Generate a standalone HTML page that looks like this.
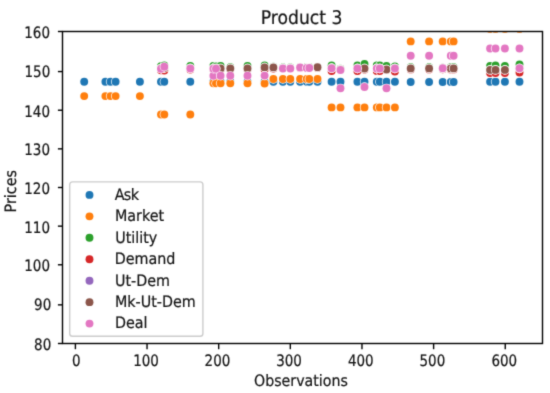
<!DOCTYPE html>
<html><head><meta charset="utf-8"><title>Product 3</title>
<style>html,body{margin:0;padding:0;background:#fff}svg{display:block;text-rendering:geometricPrecision}text{stroke:#151515;stroke-width:.2px}</style></head>
<body>
<svg width="550" height="393" viewBox="0 0 550 393" font-family="'DejaVu Sans', 'Liberation Sans', sans-serif" font-size="14.33" fill="#151515">
<rect width="550" height="393" fill="#fff"/>
<filter id="bl" x="0" y="0" width="550" height="393" filterUnits="userSpaceOnUse" color-interpolation-filters="sRGB"><feConvolveMatrix order="3" kernelMatrix="0.01917 0.10012 0.01917 0.10012 0.52283 0.10012 0.01917 0.10012 0.01917" edgeMode="duplicate" preserveAlpha="true"/></filter>
<g filter="url(#bl)">
<rect width="550" height="393" fill="#fff"/>
<defs><clipPath id="ax"><rect x="62.5" y="31.5" width="480.0" height="312.0"/></clipPath></defs>
<g clip-path="url(#ax)">
<circle cx="84.2" cy="81.7" r="4.65" fill="#fff"/><circle cx="84.2" cy="81.7" r="3.95" fill="#1f77b4"/>
<circle cx="105.4" cy="81.7" r="4.65" fill="#fff"/><circle cx="105.4" cy="81.7" r="3.95" fill="#1f77b4"/>
<circle cx="110.5" cy="81.7" r="4.65" fill="#fff"/><circle cx="110.5" cy="81.7" r="3.95" fill="#1f77b4"/>
<circle cx="115.6" cy="81.7" r="4.65" fill="#fff"/><circle cx="115.6" cy="81.7" r="3.95" fill="#1f77b4"/>
<circle cx="139.9" cy="81.7" r="4.65" fill="#fff"/><circle cx="139.9" cy="81.7" r="3.95" fill="#1f77b4"/>
<circle cx="161.0" cy="81.7" r="4.65" fill="#fff"/><circle cx="161.0" cy="81.7" r="3.95" fill="#1f77b4"/>
<circle cx="164.3" cy="81.7" r="4.65" fill="#fff"/><circle cx="164.3" cy="81.7" r="3.95" fill="#1f77b4"/>
<circle cx="190.3" cy="81.7" r="4.65" fill="#fff"/><circle cx="190.3" cy="81.7" r="3.95" fill="#1f77b4"/>
<circle cx="213.4" cy="81.7" r="4.65" fill="#fff"/><circle cx="213.4" cy="81.7" r="3.95" fill="#1f77b4"/>
<circle cx="216.0" cy="81.7" r="4.65" fill="#fff"/><circle cx="216.0" cy="81.7" r="3.95" fill="#1f77b4"/>
<circle cx="220.6" cy="81.7" r="4.65" fill="#fff"/><circle cx="220.6" cy="81.7" r="3.95" fill="#1f77b4"/>
<circle cx="230.3" cy="81.7" r="4.65" fill="#fff"/><circle cx="230.3" cy="81.7" r="3.95" fill="#1f77b4"/>
<circle cx="247.5" cy="81.7" r="4.65" fill="#fff"/><circle cx="247.5" cy="81.7" r="3.95" fill="#1f77b4"/>
<circle cx="264.6" cy="81.7" r="4.65" fill="#fff"/><circle cx="264.6" cy="81.7" r="3.95" fill="#1f77b4"/>
<circle cx="273.4" cy="81.7" r="4.65" fill="#fff"/><circle cx="273.4" cy="81.7" r="3.95" fill="#1f77b4"/>
<circle cx="282.9" cy="81.7" r="4.65" fill="#fff"/><circle cx="282.9" cy="81.7" r="3.95" fill="#1f77b4"/>
<circle cx="290.3" cy="81.7" r="4.65" fill="#fff"/><circle cx="290.3" cy="81.7" r="3.95" fill="#1f77b4"/>
<circle cx="300.1" cy="81.7" r="4.65" fill="#fff"/><circle cx="300.1" cy="81.7" r="3.95" fill="#1f77b4"/>
<circle cx="306.8" cy="81.7" r="4.65" fill="#fff"/><circle cx="306.8" cy="81.7" r="3.95" fill="#1f77b4"/>
<circle cx="309.3" cy="81.7" r="4.65" fill="#fff"/><circle cx="309.3" cy="81.7" r="3.95" fill="#1f77b4"/>
<circle cx="317.5" cy="81.7" r="4.65" fill="#fff"/><circle cx="317.5" cy="81.7" r="3.95" fill="#1f77b4"/>
<circle cx="331.6" cy="81.7" r="4.65" fill="#fff"/><circle cx="331.6" cy="81.7" r="3.95" fill="#1f77b4"/>
<circle cx="340.5" cy="81.7" r="4.65" fill="#fff"/><circle cx="340.5" cy="81.7" r="3.95" fill="#1f77b4"/>
<circle cx="357.4" cy="81.7" r="4.65" fill="#fff"/><circle cx="357.4" cy="81.7" r="3.95" fill="#1f77b4"/>
<circle cx="364.5" cy="81.7" r="4.65" fill="#fff"/><circle cx="364.5" cy="81.7" r="3.95" fill="#1f77b4"/>
<circle cx="376.8" cy="81.7" r="4.65" fill="#fff"/><circle cx="376.8" cy="81.7" r="3.95" fill="#1f77b4"/>
<circle cx="379.8" cy="81.7" r="4.65" fill="#fff"/><circle cx="379.8" cy="81.7" r="3.95" fill="#1f77b4"/>
<circle cx="386.5" cy="81.7" r="4.65" fill="#fff"/><circle cx="386.5" cy="81.7" r="3.95" fill="#1f77b4"/>
<circle cx="394.9" cy="81.7" r="4.65" fill="#fff"/><circle cx="394.9" cy="81.7" r="3.95" fill="#1f77b4"/>
<circle cx="410.7" cy="82.0" r="4.65" fill="#fff"/><circle cx="410.7" cy="82.0" r="3.95" fill="#1f77b4"/>
<circle cx="429.1" cy="82.0" r="4.65" fill="#fff"/><circle cx="429.1" cy="82.0" r="3.95" fill="#1f77b4"/>
<circle cx="442.7" cy="82.0" r="4.65" fill="#fff"/><circle cx="442.7" cy="82.0" r="3.95" fill="#1f77b4"/>
<circle cx="450.8" cy="82.0" r="4.65" fill="#fff"/><circle cx="450.8" cy="82.0" r="3.95" fill="#1f77b4"/>
<circle cx="453.6" cy="82.0" r="4.65" fill="#fff"/><circle cx="453.6" cy="82.0" r="3.95" fill="#1f77b4"/>
<circle cx="490.1" cy="81.7" r="4.65" fill="#fff"/><circle cx="490.1" cy="81.7" r="3.95" fill="#1f77b4"/>
<circle cx="495.5" cy="81.7" r="4.65" fill="#fff"/><circle cx="495.5" cy="81.7" r="3.95" fill="#1f77b4"/>
<circle cx="504.9" cy="81.7" r="4.65" fill="#fff"/><circle cx="504.9" cy="81.7" r="3.95" fill="#1f77b4"/>
<circle cx="519.5" cy="81.7" r="4.65" fill="#fff"/><circle cx="519.5" cy="81.7" r="3.95" fill="#1f77b4"/>
<circle cx="84.2" cy="96.1" r="4.65" fill="#fff"/><circle cx="84.2" cy="96.1" r="3.95" fill="#ff7f0e"/>
<circle cx="105.4" cy="96.1" r="4.65" fill="#fff"/><circle cx="105.4" cy="96.1" r="3.95" fill="#ff7f0e"/>
<circle cx="110.5" cy="96.1" r="4.65" fill="#fff"/><circle cx="110.5" cy="96.1" r="3.95" fill="#ff7f0e"/>
<circle cx="115.6" cy="96.1" r="4.65" fill="#fff"/><circle cx="115.6" cy="96.1" r="3.95" fill="#ff7f0e"/>
<circle cx="139.9" cy="96.1" r="4.65" fill="#fff"/><circle cx="139.9" cy="96.1" r="3.95" fill="#ff7f0e"/>
<circle cx="161.0" cy="114.5" r="4.65" fill="#fff"/><circle cx="161.0" cy="114.5" r="3.95" fill="#ff7f0e"/>
<circle cx="164.3" cy="114.5" r="4.65" fill="#fff"/><circle cx="164.3" cy="114.5" r="3.95" fill="#ff7f0e"/>
<circle cx="190.3" cy="114.5" r="4.65" fill="#fff"/><circle cx="190.3" cy="114.5" r="3.95" fill="#ff7f0e"/>
<circle cx="213.4" cy="83.3" r="4.65" fill="#fff"/><circle cx="213.4" cy="83.3" r="3.95" fill="#ff7f0e"/>
<circle cx="216.0" cy="83.3" r="4.65" fill="#fff"/><circle cx="216.0" cy="83.3" r="3.95" fill="#ff7f0e"/>
<circle cx="220.6" cy="83.3" r="4.65" fill="#fff"/><circle cx="220.6" cy="83.3" r="3.95" fill="#ff7f0e"/>
<circle cx="230.3" cy="83.3" r="4.65" fill="#fff"/><circle cx="230.3" cy="83.3" r="3.95" fill="#ff7f0e"/>
<circle cx="247.5" cy="83.3" r="4.65" fill="#fff"/><circle cx="247.5" cy="83.3" r="3.95" fill="#ff7f0e"/>
<circle cx="264.6" cy="83.5" r="4.65" fill="#fff"/><circle cx="264.6" cy="83.5" r="3.95" fill="#ff7f0e"/>
<circle cx="273.4" cy="79.0" r="4.65" fill="#fff"/><circle cx="273.4" cy="79.0" r="3.95" fill="#ff7f0e"/>
<circle cx="282.9" cy="79.0" r="4.65" fill="#fff"/><circle cx="282.9" cy="79.0" r="3.95" fill="#ff7f0e"/>
<circle cx="290.3" cy="79.0" r="4.65" fill="#fff"/><circle cx="290.3" cy="79.0" r="3.95" fill="#ff7f0e"/>
<circle cx="300.1" cy="79.0" r="4.65" fill="#fff"/><circle cx="300.1" cy="79.0" r="3.95" fill="#ff7f0e"/>
<circle cx="306.8" cy="79.0" r="4.65" fill="#fff"/><circle cx="306.8" cy="79.0" r="3.95" fill="#ff7f0e"/>
<circle cx="309.3" cy="79.0" r="4.65" fill="#fff"/><circle cx="309.3" cy="79.0" r="3.95" fill="#ff7f0e"/>
<circle cx="317.5" cy="79.0" r="4.65" fill="#fff"/><circle cx="317.5" cy="79.0" r="3.95" fill="#ff7f0e"/>
<circle cx="331.6" cy="107.4" r="4.65" fill="#fff"/><circle cx="331.6" cy="107.4" r="3.95" fill="#ff7f0e"/>
<circle cx="340.5" cy="107.4" r="4.65" fill="#fff"/><circle cx="340.5" cy="107.4" r="3.95" fill="#ff7f0e"/>
<circle cx="357.4" cy="107.4" r="4.65" fill="#fff"/><circle cx="357.4" cy="107.4" r="3.95" fill="#ff7f0e"/>
<circle cx="364.5" cy="107.4" r="4.65" fill="#fff"/><circle cx="364.5" cy="107.4" r="3.95" fill="#ff7f0e"/>
<circle cx="376.8" cy="107.4" r="4.65" fill="#fff"/><circle cx="376.8" cy="107.4" r="3.95" fill="#ff7f0e"/>
<circle cx="379.8" cy="107.4" r="4.65" fill="#fff"/><circle cx="379.8" cy="107.4" r="3.95" fill="#ff7f0e"/>
<circle cx="386.5" cy="107.4" r="4.65" fill="#fff"/><circle cx="386.5" cy="107.4" r="3.95" fill="#ff7f0e"/>
<circle cx="394.9" cy="107.4" r="4.65" fill="#fff"/><circle cx="394.9" cy="107.4" r="3.95" fill="#ff7f0e"/>
<circle cx="410.7" cy="41.4" r="4.65" fill="#fff"/><circle cx="410.7" cy="41.4" r="3.95" fill="#ff7f0e"/>
<circle cx="429.1" cy="41.4" r="4.65" fill="#fff"/><circle cx="429.1" cy="41.4" r="3.95" fill="#ff7f0e"/>
<circle cx="442.7" cy="41.4" r="4.65" fill="#fff"/><circle cx="442.7" cy="41.4" r="3.95" fill="#ff7f0e"/>
<circle cx="450.8" cy="41.4" r="4.65" fill="#fff"/><circle cx="450.8" cy="41.4" r="3.95" fill="#ff7f0e"/>
<circle cx="453.6" cy="41.4" r="4.65" fill="#fff"/><circle cx="453.6" cy="41.4" r="3.95" fill="#ff7f0e"/>
<circle cx="490.1" cy="28.9" r="4.65" fill="#fff"/><circle cx="490.1" cy="28.9" r="3.95" fill="#ff7f0e"/>
<circle cx="495.5" cy="28.9" r="4.65" fill="#fff"/><circle cx="495.5" cy="28.9" r="3.95" fill="#ff7f0e"/>
<circle cx="504.9" cy="28.9" r="4.65" fill="#fff"/><circle cx="504.9" cy="28.9" r="3.95" fill="#ff7f0e"/>
<circle cx="519.5" cy="28.9" r="4.65" fill="#fff"/><circle cx="519.5" cy="28.9" r="3.95" fill="#ff7f0e"/>
<circle cx="161.0" cy="66.2" r="4.65" fill="#fff"/><circle cx="161.0" cy="66.2" r="3.95" fill="#2ca02c"/>
<circle cx="164.3" cy="65.5" r="4.65" fill="#fff"/><circle cx="164.3" cy="65.5" r="3.95" fill="#2ca02c"/>
<circle cx="190.3" cy="66.0" r="4.65" fill="#fff"/><circle cx="190.3" cy="66.0" r="3.95" fill="#2ca02c"/>
<circle cx="213.4" cy="66.0" r="4.65" fill="#fff"/><circle cx="213.4" cy="66.0" r="3.95" fill="#2ca02c"/>
<circle cx="216.0" cy="66.5" r="4.65" fill="#fff"/><circle cx="216.0" cy="66.5" r="3.95" fill="#2ca02c"/>
<circle cx="220.6" cy="66.0" r="4.65" fill="#fff"/><circle cx="220.6" cy="66.0" r="3.95" fill="#2ca02c"/>
<circle cx="230.3" cy="67.3" r="4.65" fill="#fff"/><circle cx="230.3" cy="67.3" r="3.95" fill="#2ca02c"/>
<circle cx="247.5" cy="66.0" r="4.65" fill="#fff"/><circle cx="247.5" cy="66.0" r="3.95" fill="#2ca02c"/>
<circle cx="264.6" cy="65.5" r="4.65" fill="#fff"/><circle cx="264.6" cy="65.5" r="3.95" fill="#2ca02c"/>
<circle cx="273.4" cy="66.8" r="4.65" fill="#fff"/><circle cx="273.4" cy="66.8" r="3.95" fill="#2ca02c"/>
<circle cx="282.9" cy="67.5" r="4.65" fill="#fff"/><circle cx="282.9" cy="67.5" r="3.95" fill="#2ca02c"/>
<circle cx="290.3" cy="67.5" r="4.65" fill="#fff"/><circle cx="290.3" cy="67.5" r="3.95" fill="#2ca02c"/>
<circle cx="300.1" cy="67.0" r="4.65" fill="#fff"/><circle cx="300.1" cy="67.0" r="3.95" fill="#2ca02c"/>
<circle cx="306.8" cy="67.0" r="4.65" fill="#fff"/><circle cx="306.8" cy="67.0" r="3.95" fill="#2ca02c"/>
<circle cx="309.3" cy="67.0" r="4.65" fill="#fff"/><circle cx="309.3" cy="67.0" r="3.95" fill="#2ca02c"/>
<circle cx="317.5" cy="67.0" r="4.65" fill="#fff"/><circle cx="317.5" cy="67.0" r="3.95" fill="#2ca02c"/>
<circle cx="331.6" cy="65.5" r="4.65" fill="#fff"/><circle cx="331.6" cy="65.5" r="3.95" fill="#2ca02c"/>
<circle cx="340.5" cy="68.6" r="4.65" fill="#fff"/><circle cx="340.5" cy="68.6" r="3.95" fill="#2ca02c"/>
<circle cx="357.4" cy="65.5" r="4.65" fill="#fff"/><circle cx="357.4" cy="65.5" r="3.95" fill="#2ca02c"/>
<circle cx="364.5" cy="64.0" r="4.65" fill="#fff"/><circle cx="364.5" cy="64.0" r="3.95" fill="#2ca02c"/>
<circle cx="376.8" cy="65.5" r="4.65" fill="#fff"/><circle cx="376.8" cy="65.5" r="3.95" fill="#2ca02c"/>
<circle cx="379.8" cy="65.5" r="4.65" fill="#fff"/><circle cx="379.8" cy="65.5" r="3.95" fill="#2ca02c"/>
<circle cx="386.5" cy="66.0" r="4.65" fill="#fff"/><circle cx="386.5" cy="66.0" r="3.95" fill="#2ca02c"/>
<circle cx="394.9" cy="66.5" r="4.65" fill="#fff"/><circle cx="394.9" cy="66.5" r="3.95" fill="#2ca02c"/>
<circle cx="410.7" cy="67.3" r="4.65" fill="#fff"/><circle cx="410.7" cy="67.3" r="3.95" fill="#2ca02c"/>
<circle cx="429.1" cy="67.3" r="4.65" fill="#fff"/><circle cx="429.1" cy="67.3" r="3.95" fill="#2ca02c"/>
<circle cx="442.7" cy="67.6" r="4.65" fill="#fff"/><circle cx="442.7" cy="67.6" r="3.95" fill="#2ca02c"/>
<circle cx="450.8" cy="67.3" r="4.65" fill="#fff"/><circle cx="450.8" cy="67.3" r="3.95" fill="#2ca02c"/>
<circle cx="453.6" cy="67.3" r="4.65" fill="#fff"/><circle cx="453.6" cy="67.3" r="3.95" fill="#2ca02c"/>
<circle cx="490.1" cy="66.0" r="4.65" fill="#fff"/><circle cx="490.1" cy="66.0" r="3.95" fill="#2ca02c"/>
<circle cx="495.5" cy="65.5" r="4.65" fill="#fff"/><circle cx="495.5" cy="65.5" r="3.95" fill="#2ca02c"/>
<circle cx="504.9" cy="66.0" r="4.65" fill="#fff"/><circle cx="504.9" cy="66.0" r="3.95" fill="#2ca02c"/>
<circle cx="519.5" cy="64.5" r="4.65" fill="#fff"/><circle cx="519.5" cy="64.5" r="3.95" fill="#2ca02c"/>
<circle cx="161.0" cy="70.3" r="4.65" fill="#fff"/><circle cx="161.0" cy="70.3" r="3.95" fill="#d62728"/>
<circle cx="164.3" cy="70.5" r="4.65" fill="#fff"/><circle cx="164.3" cy="70.5" r="3.95" fill="#d62728"/>
<circle cx="190.3" cy="69.5" r="4.65" fill="#fff"/><circle cx="190.3" cy="69.5" r="3.95" fill="#d62728"/>
<circle cx="213.4" cy="69.5" r="4.65" fill="#fff"/><circle cx="213.4" cy="69.5" r="3.95" fill="#d62728"/>
<circle cx="216.0" cy="69.5" r="4.65" fill="#fff"/><circle cx="216.0" cy="69.5" r="3.95" fill="#d62728"/>
<circle cx="220.6" cy="69.5" r="4.65" fill="#fff"/><circle cx="220.6" cy="69.5" r="3.95" fill="#d62728"/>
<circle cx="230.3" cy="69.5" r="4.65" fill="#fff"/><circle cx="230.3" cy="69.5" r="3.95" fill="#d62728"/>
<circle cx="247.5" cy="69.5" r="4.65" fill="#fff"/><circle cx="247.5" cy="69.5" r="3.95" fill="#d62728"/>
<circle cx="264.6" cy="69.5" r="4.65" fill="#fff"/><circle cx="264.6" cy="69.5" r="3.95" fill="#d62728"/>
<circle cx="273.4" cy="68.5" r="4.65" fill="#fff"/><circle cx="273.4" cy="68.5" r="3.95" fill="#d62728"/>
<circle cx="282.9" cy="68.5" r="4.65" fill="#fff"/><circle cx="282.9" cy="68.5" r="3.95" fill="#d62728"/>
<circle cx="290.3" cy="68.5" r="4.65" fill="#fff"/><circle cx="290.3" cy="68.5" r="3.95" fill="#d62728"/>
<circle cx="300.1" cy="68.0" r="4.65" fill="#fff"/><circle cx="300.1" cy="68.0" r="3.95" fill="#d62728"/>
<circle cx="306.8" cy="68.0" r="4.65" fill="#fff"/><circle cx="306.8" cy="68.0" r="3.95" fill="#d62728"/>
<circle cx="309.3" cy="68.0" r="4.65" fill="#fff"/><circle cx="309.3" cy="68.0" r="3.95" fill="#d62728"/>
<circle cx="317.5" cy="68.0" r="4.65" fill="#fff"/><circle cx="317.5" cy="68.0" r="3.95" fill="#d62728"/>
<circle cx="331.6" cy="71.0" r="4.65" fill="#fff"/><circle cx="331.6" cy="71.0" r="3.95" fill="#d62728"/>
<circle cx="340.5" cy="70.0" r="4.65" fill="#fff"/><circle cx="340.5" cy="70.0" r="3.95" fill="#d62728"/>
<circle cx="357.4" cy="71.0" r="4.65" fill="#fff"/><circle cx="357.4" cy="71.0" r="3.95" fill="#d62728"/>
<circle cx="364.5" cy="69.5" r="4.65" fill="#fff"/><circle cx="364.5" cy="69.5" r="3.95" fill="#d62728"/>
<circle cx="376.8" cy="71.0" r="4.65" fill="#fff"/><circle cx="376.8" cy="71.0" r="3.95" fill="#d62728"/>
<circle cx="379.8" cy="71.0" r="4.65" fill="#fff"/><circle cx="379.8" cy="71.0" r="3.95" fill="#d62728"/>
<circle cx="386.5" cy="70.0" r="4.65" fill="#fff"/><circle cx="386.5" cy="70.0" r="3.95" fill="#d62728"/>
<circle cx="394.9" cy="71.5" r="4.65" fill="#fff"/><circle cx="394.9" cy="71.5" r="3.95" fill="#d62728"/>
<circle cx="410.7" cy="69.4" r="4.65" fill="#fff"/><circle cx="410.7" cy="69.4" r="3.95" fill="#d62728"/>
<circle cx="429.1" cy="69.4" r="4.65" fill="#fff"/><circle cx="429.1" cy="69.4" r="3.95" fill="#d62728"/>
<circle cx="442.7" cy="69.2" r="4.65" fill="#fff"/><circle cx="442.7" cy="69.2" r="3.95" fill="#d62728"/>
<circle cx="450.8" cy="69.4" r="4.65" fill="#fff"/><circle cx="450.8" cy="69.4" r="3.95" fill="#d62728"/>
<circle cx="453.6" cy="69.4" r="4.65" fill="#fff"/><circle cx="453.6" cy="69.4" r="3.95" fill="#d62728"/>
<circle cx="490.1" cy="73.0" r="4.65" fill="#fff"/><circle cx="490.1" cy="73.0" r="3.95" fill="#d62728"/>
<circle cx="495.5" cy="73.0" r="4.65" fill="#fff"/><circle cx="495.5" cy="73.0" r="3.95" fill="#d62728"/>
<circle cx="504.9" cy="73.0" r="4.65" fill="#fff"/><circle cx="504.9" cy="73.0" r="3.95" fill="#d62728"/>
<circle cx="519.5" cy="72.5" r="4.65" fill="#fff"/><circle cx="519.5" cy="72.5" r="3.95" fill="#d62728"/>
<circle cx="161.0" cy="68.5" r="4.65" fill="#fff"/><circle cx="161.0" cy="68.5" r="3.95" fill="#9467bd"/>
<circle cx="164.3" cy="68.0" r="4.65" fill="#fff"/><circle cx="164.3" cy="68.0" r="3.95" fill="#9467bd"/>
<circle cx="190.3" cy="68.3" r="4.65" fill="#fff"/><circle cx="190.3" cy="68.3" r="3.95" fill="#9467bd"/>
<circle cx="213.4" cy="68.5" r="4.65" fill="#fff"/><circle cx="213.4" cy="68.5" r="3.95" fill="#9467bd"/>
<circle cx="216.0" cy="68.5" r="4.65" fill="#fff"/><circle cx="216.0" cy="68.5" r="3.95" fill="#9467bd"/>
<circle cx="220.6" cy="68.5" r="4.65" fill="#fff"/><circle cx="220.6" cy="68.5" r="3.95" fill="#9467bd"/>
<circle cx="230.3" cy="68.5" r="4.65" fill="#fff"/><circle cx="230.3" cy="68.5" r="3.95" fill="#9467bd"/>
<circle cx="247.5" cy="68.5" r="4.65" fill="#fff"/><circle cx="247.5" cy="68.5" r="3.95" fill="#9467bd"/>
<circle cx="264.6" cy="67.5" r="4.65" fill="#fff"/><circle cx="264.6" cy="67.5" r="3.95" fill="#9467bd"/>
<circle cx="273.4" cy="67.4" r="4.65" fill="#fff"/><circle cx="273.4" cy="67.4" r="3.95" fill="#9467bd"/>
<circle cx="282.9" cy="68.3" r="4.65" fill="#fff"/><circle cx="282.9" cy="68.3" r="3.95" fill="#9467bd"/>
<circle cx="290.3" cy="68.3" r="4.65" fill="#fff"/><circle cx="290.3" cy="68.3" r="3.95" fill="#9467bd"/>
<circle cx="300.1" cy="67.5" r="4.65" fill="#fff"/><circle cx="300.1" cy="67.5" r="3.95" fill="#9467bd"/>
<circle cx="306.8" cy="67.8" r="4.65" fill="#fff"/><circle cx="306.8" cy="67.8" r="3.95" fill="#9467bd"/>
<circle cx="309.3" cy="67.8" r="4.65" fill="#fff"/><circle cx="309.3" cy="67.8" r="3.95" fill="#9467bd"/>
<circle cx="317.5" cy="67.3" r="4.65" fill="#fff"/><circle cx="317.5" cy="67.3" r="3.95" fill="#9467bd"/>
<circle cx="331.6" cy="68.2" r="4.65" fill="#fff"/><circle cx="331.6" cy="68.2" r="3.95" fill="#9467bd"/>
<circle cx="340.5" cy="69.5" r="4.65" fill="#fff"/><circle cx="340.5" cy="69.5" r="3.95" fill="#9467bd"/>
<circle cx="357.4" cy="68.5" r="4.65" fill="#fff"/><circle cx="357.4" cy="68.5" r="3.95" fill="#9467bd"/>
<circle cx="364.5" cy="68.5" r="4.65" fill="#fff"/><circle cx="364.5" cy="68.5" r="3.95" fill="#9467bd"/>
<circle cx="376.8" cy="68.5" r="4.65" fill="#fff"/><circle cx="376.8" cy="68.5" r="3.95" fill="#9467bd"/>
<circle cx="379.8" cy="68.5" r="4.65" fill="#fff"/><circle cx="379.8" cy="68.5" r="3.95" fill="#9467bd"/>
<circle cx="386.5" cy="69.5" r="4.65" fill="#fff"/><circle cx="386.5" cy="69.5" r="3.95" fill="#9467bd"/>
<circle cx="394.9" cy="68.5" r="4.65" fill="#fff"/><circle cx="394.9" cy="68.5" r="3.95" fill="#9467bd"/>
<circle cx="410.7" cy="68.4" r="4.65" fill="#fff"/><circle cx="410.7" cy="68.4" r="3.95" fill="#9467bd"/>
<circle cx="429.1" cy="68.4" r="4.65" fill="#fff"/><circle cx="429.1" cy="68.4" r="3.95" fill="#9467bd"/>
<circle cx="442.7" cy="68.4" r="4.65" fill="#fff"/><circle cx="442.7" cy="68.4" r="3.95" fill="#9467bd"/>
<circle cx="450.8" cy="68.4" r="4.65" fill="#fff"/><circle cx="450.8" cy="68.4" r="3.95" fill="#9467bd"/>
<circle cx="453.6" cy="68.4" r="4.65" fill="#fff"/><circle cx="453.6" cy="68.4" r="3.95" fill="#9467bd"/>
<circle cx="490.1" cy="69.9" r="4.65" fill="#fff"/><circle cx="490.1" cy="69.9" r="3.95" fill="#9467bd"/>
<circle cx="495.5" cy="69.9" r="4.65" fill="#fff"/><circle cx="495.5" cy="69.9" r="3.95" fill="#9467bd"/>
<circle cx="504.9" cy="69.9" r="4.65" fill="#fff"/><circle cx="504.9" cy="69.9" r="3.95" fill="#9467bd"/>
<circle cx="519.5" cy="68.5" r="4.65" fill="#fff"/><circle cx="519.5" cy="68.5" r="3.95" fill="#9467bd"/>
<circle cx="161.0" cy="68.5" r="4.65" fill="#fff"/><circle cx="161.0" cy="68.5" r="3.95" fill="#8c564b"/>
<circle cx="164.3" cy="68.0" r="4.65" fill="#fff"/><circle cx="164.3" cy="68.0" r="3.95" fill="#8c564b"/>
<circle cx="190.3" cy="68.3" r="4.65" fill="#fff"/><circle cx="190.3" cy="68.3" r="3.95" fill="#8c564b"/>
<circle cx="213.4" cy="68.5" r="4.65" fill="#fff"/><circle cx="213.4" cy="68.5" r="3.95" fill="#8c564b"/>
<circle cx="216.0" cy="68.5" r="4.65" fill="#fff"/><circle cx="216.0" cy="68.5" r="3.95" fill="#8c564b"/>
<circle cx="220.6" cy="68.5" r="4.65" fill="#fff"/><circle cx="220.6" cy="68.5" r="3.95" fill="#8c564b"/>
<circle cx="230.3" cy="68.5" r="4.65" fill="#fff"/><circle cx="230.3" cy="68.5" r="3.95" fill="#8c564b"/>
<circle cx="247.5" cy="68.5" r="4.65" fill="#fff"/><circle cx="247.5" cy="68.5" r="3.95" fill="#8c564b"/>
<circle cx="264.6" cy="67.5" r="4.65" fill="#fff"/><circle cx="264.6" cy="67.5" r="3.95" fill="#8c564b"/>
<circle cx="273.4" cy="67.4" r="4.65" fill="#fff"/><circle cx="273.4" cy="67.4" r="3.95" fill="#8c564b"/>
<circle cx="282.9" cy="68.3" r="4.65" fill="#fff"/><circle cx="282.9" cy="68.3" r="3.95" fill="#8c564b"/>
<circle cx="290.3" cy="68.3" r="4.65" fill="#fff"/><circle cx="290.3" cy="68.3" r="3.95" fill="#8c564b"/>
<circle cx="300.1" cy="67.5" r="4.65" fill="#fff"/><circle cx="300.1" cy="67.5" r="3.95" fill="#8c564b"/>
<circle cx="306.8" cy="67.8" r="4.65" fill="#fff"/><circle cx="306.8" cy="67.8" r="3.95" fill="#8c564b"/>
<circle cx="309.3" cy="67.8" r="4.65" fill="#fff"/><circle cx="309.3" cy="67.8" r="3.95" fill="#8c564b"/>
<circle cx="317.5" cy="67.3" r="4.65" fill="#fff"/><circle cx="317.5" cy="67.3" r="3.95" fill="#8c564b"/>
<circle cx="331.6" cy="68.2" r="4.65" fill="#fff"/><circle cx="331.6" cy="68.2" r="3.95" fill="#8c564b"/>
<circle cx="340.5" cy="69.5" r="4.65" fill="#fff"/><circle cx="340.5" cy="69.5" r="3.95" fill="#8c564b"/>
<circle cx="357.4" cy="68.5" r="4.65" fill="#fff"/><circle cx="357.4" cy="68.5" r="3.95" fill="#8c564b"/>
<circle cx="364.5" cy="68.5" r="4.65" fill="#fff"/><circle cx="364.5" cy="68.5" r="3.95" fill="#8c564b"/>
<circle cx="376.8" cy="68.5" r="4.65" fill="#fff"/><circle cx="376.8" cy="68.5" r="3.95" fill="#8c564b"/>
<circle cx="379.8" cy="68.5" r="4.65" fill="#fff"/><circle cx="379.8" cy="68.5" r="3.95" fill="#8c564b"/>
<circle cx="386.5" cy="69.5" r="4.65" fill="#fff"/><circle cx="386.5" cy="69.5" r="3.95" fill="#8c564b"/>
<circle cx="394.9" cy="68.5" r="4.65" fill="#fff"/><circle cx="394.9" cy="68.5" r="3.95" fill="#8c564b"/>
<circle cx="410.7" cy="68.4" r="4.65" fill="#fff"/><circle cx="410.7" cy="68.4" r="3.95" fill="#8c564b"/>
<circle cx="429.1" cy="68.4" r="4.65" fill="#fff"/><circle cx="429.1" cy="68.4" r="3.95" fill="#8c564b"/>
<circle cx="442.7" cy="68.4" r="4.65" fill="#fff"/><circle cx="442.7" cy="68.4" r="3.95" fill="#8c564b"/>
<circle cx="450.8" cy="68.4" r="4.65" fill="#fff"/><circle cx="450.8" cy="68.4" r="3.95" fill="#8c564b"/>
<circle cx="453.6" cy="68.4" r="4.65" fill="#fff"/><circle cx="453.6" cy="68.4" r="3.95" fill="#8c564b"/>
<circle cx="490.1" cy="69.9" r="4.65" fill="#fff"/><circle cx="490.1" cy="69.9" r="3.95" fill="#8c564b"/>
<circle cx="495.5" cy="69.9" r="4.65" fill="#fff"/><circle cx="495.5" cy="69.9" r="3.95" fill="#8c564b"/>
<circle cx="504.9" cy="69.9" r="4.65" fill="#fff"/><circle cx="504.9" cy="69.9" r="3.95" fill="#8c564b"/>
<circle cx="519.5" cy="68.5" r="4.65" fill="#fff"/><circle cx="519.5" cy="68.5" r="3.95" fill="#8c564b"/>
<circle cx="161.0" cy="68.8" r="4.65" fill="#fff"/><circle cx="161.0" cy="68.8" r="3.95" fill="#e377c2"/>
<circle cx="164.3" cy="66.8" r="4.65" fill="#fff"/><circle cx="164.3" cy="66.8" r="3.95" fill="#e377c2"/>
<circle cx="190.3" cy="68.5" r="4.65" fill="#fff"/><circle cx="190.3" cy="68.5" r="3.95" fill="#e377c2"/>
<circle cx="213.4" cy="75.8" r="4.65" fill="#fff"/><circle cx="213.4" cy="75.8" r="3.95" fill="#e377c2"/>
<circle cx="213.4" cy="68.8" r="4.65" fill="#fff"/><circle cx="213.4" cy="68.8" r="3.95" fill="#e377c2"/>
<circle cx="216.0" cy="68.8" r="4.65" fill="#fff"/><circle cx="216.0" cy="68.8" r="3.95" fill="#e377c2"/>
<circle cx="220.6" cy="75.8" r="4.65" fill="#fff"/><circle cx="220.6" cy="75.8" r="3.95" fill="#e377c2"/>
<circle cx="230.3" cy="75.8" r="4.65" fill="#fff"/><circle cx="230.3" cy="75.8" r="3.95" fill="#e377c2"/>
<circle cx="247.5" cy="75.8" r="4.65" fill="#fff"/><circle cx="247.5" cy="75.8" r="3.95" fill="#e377c2"/>
<circle cx="264.6" cy="75.6" r="4.65" fill="#fff"/><circle cx="264.6" cy="75.6" r="3.95" fill="#e377c2"/>
<circle cx="282.9" cy="68.5" r="4.65" fill="#fff"/><circle cx="282.9" cy="68.5" r="3.95" fill="#e377c2"/>
<circle cx="290.3" cy="68.5" r="4.65" fill="#fff"/><circle cx="290.3" cy="68.5" r="3.95" fill="#e377c2"/>
<circle cx="300.1" cy="67.5" r="4.65" fill="#fff"/><circle cx="300.1" cy="67.5" r="3.95" fill="#e377c2"/>
<circle cx="306.8" cy="68.0" r="4.65" fill="#fff"/><circle cx="306.8" cy="68.0" r="3.95" fill="#e377c2"/>
<circle cx="309.3" cy="68.0" r="4.65" fill="#fff"/><circle cx="309.3" cy="68.0" r="3.95" fill="#e377c2"/>
<circle cx="331.6" cy="68.2" r="4.65" fill="#fff"/><circle cx="331.6" cy="68.2" r="3.95" fill="#e377c2"/>
<circle cx="340.5" cy="70.0" r="4.65" fill="#fff"/><circle cx="340.5" cy="70.0" r="3.95" fill="#e377c2"/>
<circle cx="340.5" cy="88.3" r="4.65" fill="#fff"/><circle cx="340.5" cy="88.3" r="3.95" fill="#e377c2"/>
<circle cx="357.4" cy="68.5" r="4.65" fill="#fff"/><circle cx="357.4" cy="68.5" r="3.95" fill="#e377c2"/>
<circle cx="364.5" cy="87.0" r="4.65" fill="#fff"/><circle cx="364.5" cy="87.0" r="3.95" fill="#e377c2"/>
<circle cx="376.8" cy="68.5" r="4.65" fill="#fff"/><circle cx="376.8" cy="68.5" r="3.95" fill="#e377c2"/>
<circle cx="379.8" cy="68.5" r="4.65" fill="#fff"/><circle cx="379.8" cy="68.5" r="3.95" fill="#e377c2"/>
<circle cx="386.5" cy="88.3" r="4.65" fill="#fff"/><circle cx="386.5" cy="88.3" r="3.95" fill="#e377c2"/>
<circle cx="394.9" cy="68.5" r="4.65" fill="#fff"/><circle cx="394.9" cy="68.5" r="3.95" fill="#e377c2"/>
<circle cx="410.7" cy="55.8" r="4.65" fill="#fff"/><circle cx="410.7" cy="55.8" r="3.95" fill="#e377c2"/>
<circle cx="429.1" cy="55.8" r="4.65" fill="#fff"/><circle cx="429.1" cy="55.8" r="3.95" fill="#e377c2"/>
<circle cx="442.7" cy="68.3" r="4.65" fill="#fff"/><circle cx="442.7" cy="68.3" r="3.95" fill="#e377c2"/>
<circle cx="450.8" cy="55.8" r="4.65" fill="#fff"/><circle cx="450.8" cy="55.8" r="3.95" fill="#e377c2"/>
<circle cx="453.6" cy="55.8" r="4.65" fill="#fff"/><circle cx="453.6" cy="55.8" r="3.95" fill="#e377c2"/>
<circle cx="490.1" cy="48.5" r="4.65" fill="#fff"/><circle cx="490.1" cy="48.5" r="3.95" fill="#e377c2"/>
<circle cx="495.5" cy="48.5" r="4.65" fill="#fff"/><circle cx="495.5" cy="48.5" r="3.95" fill="#e377c2"/>
<circle cx="504.9" cy="48.5" r="4.65" fill="#fff"/><circle cx="504.9" cy="48.5" r="3.95" fill="#e377c2"/>
<circle cx="519.5" cy="68.3" r="4.65" fill="#fff"/><circle cx="519.5" cy="68.3" r="3.95" fill="#e377c2"/>
<circle cx="519.5" cy="48.5" r="4.65" fill="#fff"/><circle cx="519.5" cy="48.5" r="3.95" fill="#e377c2"/>
</g>
<rect x="62.5" y="31.5" width="480.0" height="312.0" fill="none" stroke="#000" stroke-width="1.4"/>
<g stroke="#000" stroke-width="1.4"><line x1="75.40" y1="343.5" x2="75.40" y2="349.2"/><line x1="147.04" y1="343.5" x2="147.04" y2="349.2"/><line x1="218.68" y1="343.5" x2="218.68" y2="349.2"/><line x1="290.33" y1="343.5" x2="290.33" y2="349.2"/><line x1="361.97" y1="343.5" x2="361.97" y2="349.2"/><line x1="433.61" y1="343.5" x2="433.61" y2="349.2"/><line x1="505.25" y1="343.5" x2="505.25" y2="349.2"/><line x1="62.5" y1="343.50" x2="57.9" y2="343.50"/><line x1="62.5" y1="304.86" x2="57.9" y2="304.86"/><line x1="62.5" y1="264.78" x2="57.9" y2="264.78"/><line x1="62.5" y1="226.14" x2="57.9" y2="226.14"/><line x1="62.5" y1="187.50" x2="57.9" y2="187.50"/><line x1="62.5" y1="148.86" x2="57.9" y2="148.86"/><line x1="62.5" y1="110.22" x2="57.9" y2="110.22"/><line x1="62.5" y1="71.57" x2="57.9" y2="71.57"/><line x1="62.5" y1="31.50" x2="57.9" y2="31.50"/></g>
<text transform="translate(76.25,365.60) scale(0.94,1.097)" text-anchor="middle">0</text>
<text transform="translate(146.08,365.60) scale(0.94,1.097)" text-anchor="middle">100</text>
<text transform="translate(217.41,365.60) scale(0.94,1.097)" text-anchor="middle">200</text>
<text transform="translate(288.99,365.60) scale(0.94,1.097)" text-anchor="middle">300</text>
<text transform="translate(360.82,365.60) scale(0.94,1.097)" text-anchor="middle">400</text>
<text transform="translate(432.40,365.60) scale(0.94,1.097)" text-anchor="middle">500</text>
<text transform="translate(504.23,365.60) scale(0.94,1.097)" text-anchor="middle">600</text>
<text transform="translate(51.25,349.69) scale(0.94,1.097)" text-anchor="end">80</text>
<text transform="translate(51.25,309.62) scale(0.94,1.097)" text-anchor="end">90</text>
<text transform="translate(50.00,270.73) scale(0.94,1.097)" text-anchor="end">100</text>
<text transform="translate(50.00,232.58) scale(0.94,1.097)" text-anchor="end">110</text>
<text transform="translate(50.00,193.69) scale(0.94,1.097)" text-anchor="end">120</text>
<text transform="translate(50.00,154.55) scale(0.94,1.097)" text-anchor="end">130</text>
<text transform="translate(50.00,116.66) scale(0.94,1.097)" text-anchor="end">140</text>
<text transform="translate(50.25,76.58) scale(0.94,1.097)" text-anchor="end">150</text>
<text transform="translate(50.00,37.69) scale(0.94,1.097)" text-anchor="end">160</text>
<text transform="translate(300.90,385.55) scale(0.99,1.097)" text-anchor="middle">Observations</text>
<text transform="translate(15.65,191.30) rotate(-90) scale(1.0,1.097)" text-anchor="middle">Prices</text>
<text transform="translate(301.60,23.60) scale(1.0,1.097)" text-anchor="middle" font-size="17.2">Product 3</text>
<rect x="69.7" y="181.9" width="133.2" height="154.4" rx="2.8" ry="2.8" fill="#fff" fill-opacity="0.8" stroke="#cccccc" stroke-width="1.4"/>
<circle cx="89.5" cy="194.90" r="3.95" fill="#1f77b4"/>
<text transform="translate(114.65,199.55) scale(1.0,1.097)" letter-spacing="-0.6">Ask</text>
<circle cx="89.5" cy="216.35" r="3.95" fill="#ff7f0e"/>
<text transform="translate(114.90,220.50) scale(1.0,1.097)">Market</text>
<circle cx="89.5" cy="237.80" r="3.95" fill="#2ca02c"/>
<text transform="translate(115.15,242.70) scale(1.0,1.097)">Utility</text>
<circle cx="89.5" cy="259.25" r="3.95" fill="#d62728"/>
<text transform="translate(114.65,263.65) scale(1.0,1.097)">Demand</text>
<circle cx="89.5" cy="280.70" r="3.95" fill="#9467bd"/>
<text transform="translate(114.90,285.60) scale(1.0,1.097)">Ut-Dem</text>
<circle cx="89.5" cy="302.15" r="3.95" fill="#8c564b"/>
<text transform="translate(114.90,306.55) scale(1.0,1.097)">Mk-Ut-Dem</text>
<circle cx="89.5" cy="323.60" r="3.95" fill="#e377c2"/>
<text transform="translate(114.90,327.50) scale(1.0,1.097)">Deal</text>
</g></svg>
</body></html>
